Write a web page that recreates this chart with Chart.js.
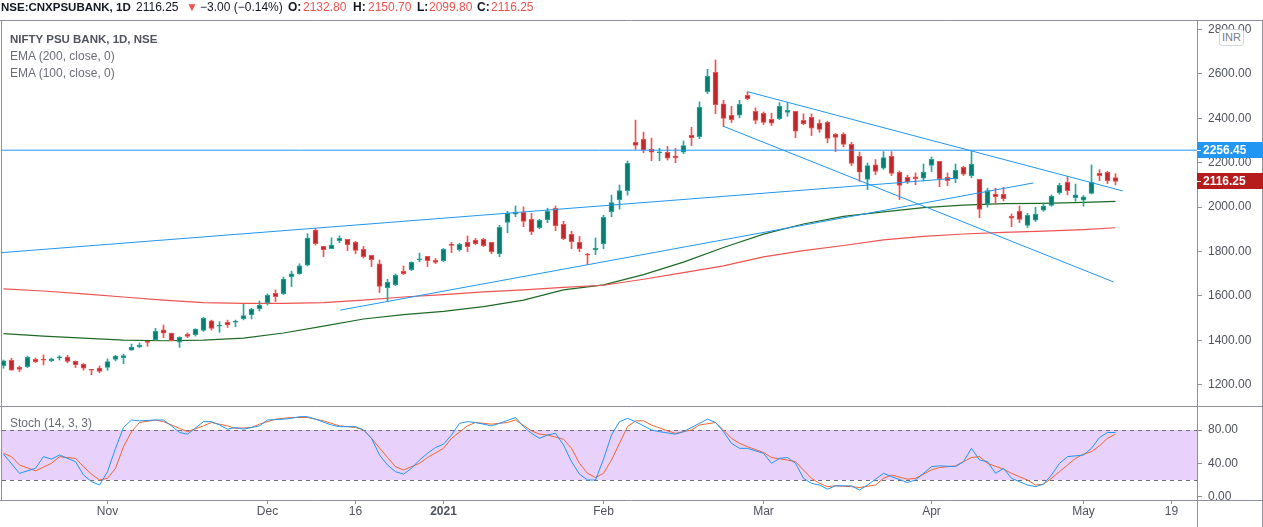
<!DOCTYPE html>
<html>
<head>
<meta charset="utf-8">
<script src="https://cdn.jsdelivr.net/npm/chart.js@4.4.1/dist/chart.umd.min.js"></script>
<style>
  html, body { margin: 0; padding: 0; background: #fff; }
  #wrap { position: relative; width: 1263px; height: 527px; overflow: hidden; }
  #chart { position: absolute; left: 0; top: 0; }
  .t { position: absolute; white-space: nowrap; font-family: 'Liberation Sans', Arial, sans-serif; font-size: 12px; line-height: 14px; }
  .hdr { color: #131722; top: 0px; }
  .hb { font-weight: bold; }
  .red { color: #ef5350; }
  .lg { color: #6a6d78; }
  .lg.title { color: #50535e; font-weight: bold; }
  #inr { position: absolute; left: 1219px; top: 29px; width: 23px; height: 15px; border: 1px solid #d1d4dc; border-radius: 3px; background: #fff;
         font-family: 'Liberation Sans', Arial, sans-serif; font-size: 11px; line-height: 15px; color: #787b86; text-align: center; }
</style>
</head>
<body>
<div id="wrap">
  <canvas id="chart" width="1263" height="527"></canvas>
  <div class="t hdr hb" style="left:1px;font-size:11.5px">NSE:CNXPSUBANK, 1D</div>
  <div class="t hdr" style="left:136px">2116.25</div>
  <div class="t hdr red" style="left:186px">▼</div>
  <div class="t hdr" style="left:200px">−3.00 (−0.14%)</div>
  <div class="t hdr hb" style="left:288px">O:</div>
  <div class="t hdr red" style="left:303px">2132.80</div>
  <div class="t hdr hb" style="left:353px">H:</div>
  <div class="t hdr red" style="left:368px">2150.70</div>
  <div class="t hdr hb" style="left:417px">L:</div>
  <div class="t hdr red" style="left:429px">2099.80</div>
  <div class="t hdr hb" style="left:477px">C:</div>
  <div class="t hdr red" style="left:491px">2116.25</div>
  <div class="t lg title" style="left:10px;top:32px;font-size:11.5px">NIFTY PSU BANK, 1D, NSE</div>
  <div class="t lg" style="left:10px;top:49px">EMA (200, close, 0)</div>
  <div class="t lg" style="left:10px;top:66px">EMA (100, close, 0)</div>
  <div class="t lg" style="left:10px;top:416px">Stoch (14, 3, 3)</div>
  <div id="inr">INR</div>
</div>
<script>
// daily candles, bar index 0 = mid Oct 2020 ... 139 = 7 May 2021
const opens = [1286,1310,1278,1281,1314,1313,1308,1321,1324,1305,
  1292,1268,1275,1278,1314,1322,1355,1370,1395,1403,
  1447,1432,1392,1427,1425,1445,1488,1464,1481,1482,
  1497,1516,1543,1570,1612,1610,1687,1700,1739,1897,
  1823,1813,1849,1855,1841,1810,1783,1744,1637,1651,
  1711,1718,1763,1778,1760,1759,1832,1808,1841,1852,
  1855,1841,1790,1931,1968,1977,1945,1907,1943,1995,
  1923,1877,1841,1787,1808,1835,1979,2033,2074,2292,
  2305,2260,2245,2247,2229,2247,2323,2317,2520,2607,
  2465,2414,2414,2504,2432,2423,2396,2399,2427,2432,
  2391,2405,2378,2382,2328,2329,2283,2229,2125,2191,
  2175,2229,2157,2134,2136,2130,2188,2206,2134,2127,
  2179,2142,2125,2014,2059,2058,1959,1981,1917,1941,
  1986,2008,2065,2112,2043,2031,2062,2152,2157,2132.8];
const highs = [1311,1319,1284,1329,1320,1334,1320,1331,1332,1307,
  1295,1268,1284,1316,1332,1338,1383,1388,1395,1454,
  1469,1432,1416,1433,1452,1504,1491,1484,1491,1491,
  1562,1544,1577,1609,1627,1685,1712,1745,1880,1903,
  1823,1862,1871,1855,1846,1823,1783,1762,1675,1699,
  1735,1754,1793,1778,1769,1814,1841,1837,1870,1859,
  1859,1841,1918,1981,2005,2001,1972,1945,1995,2005,
  1936,1891,1868,1792,1861,1963,2054,2100,2208,2392,
  2338,2311,2265,2274,2265,2298,2360,2474,2621,2663,
  2481,2454,2481,2519,2447,2429,2423,2471,2472,2432,
  2420,2420,2393,2387,2332,2335,2292,2248,2199,2214,
  2250,2250,2163,2143,2154,2194,2226,2206,2154,2194,
  2184,2251,2125,2085,2085,2089,1969,2005,1972,1999,
  2019,2055,2107,2137,2104,2052,2190,2169,2161,2150.7];
const lows = [1274,1265,1259,1277,1299,1289,1304,1311,1298,1277,
  1265,1245,1254,1265,1307,1295,1355,1367,1373,1398,
  1412,1398,1368,1412,1419,1440,1446,1436,1458,1461,
  1492,1496,1532,1559,1574,1606,1642,1697,1735,1829,
  1777,1813,1840,1804,1790,1771,1732,1615,1577,1646,
  1696,1714,1754,1732,1745,1754,1795,1802,1799,1831,
  1822,1790,1777,1885,1957,1912,1876,1903,1930,1894,
  1853,1813,1799,1742,1786,1813,1957,1991,2054,2260,
  2245,2209,2209,2212,2200,2241,2277,2308,2511,2421,
  2362,2381,2402,2484,2376,2372,2367,2394,2409,2313,
  2371,2322,2337,2290,2250,2272,2187,2116,2079,2146,
  2170,2142,2034,2106,2101,2118,2160,2092,2097,2110,
  2142,2133,1952,2000,2013,2028,1912,1930,1908,1935,
  1981,2004,2058,2055,2026,2004,2059,2119,2106,2099.8];
const closes = [1307,1265,1269,1323,1304,1310,1316,1324,1305,1290,
  1274,1265,1260,1304,1329,1331,1370,1379,1391,1440,
  1432,1398,1413,1418,1450,1499,1454,1469,1469,1487,
  1511,1540,1559,1603,1597,1676,1699,1735,1861,1835,
  1808,1829,1859,1831,1805,1777,1763,1643,1661,1693,
  1700,1751,1766,1759,1751,1810,1828,1832,1822,1835,
  1826,1799,1909,1972,1978,1936,1889,1941,1981,1916,
  1858,1844,1813,1783,1814,1954,2021,2075,2197,2278,
  2257,2247,2249,2220,2223,2277,2313,2450,2589,2462,
  2400,2394,2463,2489,2391,2382,2378,2454,2436,2342,
  2376,2356,2350,2310,2314,2283,2197,2157,2187,2161,
  2223,2152,2098,2113,2128,2157,2215,2127,2119,2166,
  2148,2193,1990,2075,2047,2038,1950,1945,1963,1969,
  2005,2049,2098,2074,2055,2046,2112,2142,2119.25,2116.25];

// moving averages every 5 bars
const emaIdx = [0,5,10,15,20,25,30,35,40,45,50,55,60,65,70,75,80,85,90,95,100,105,110,115,120,125,130,135,139];
const ema200 = [1632,1622,1609,1595,1581,1570,1566,1566,1570,1581,1595,1606,1618,1627,1638,1648,1675,1705,1735,1776,1804,1827,1852,1868,1879,1886,1892,1899,1907];
const ema100 = [1430,1419,1410,1401,1398,1401,1410,1433,1464,1496,1516,1530,1552,1581,1627,1650,1696,1752,1818,1878,1924,1958,1979,1998,2009,2016,2017,2021,2026];

// stochastic %K and %D
const kIdx = [0,2,4,5,6,7,9,10,11,12,13,14,15,16,17,19,20,21,22,23,25,26,27,28,29,30,32,33,35,36,37,38,39,41,42,44,45,46,47,48,49,50,51,52,53,54,55,56,57,58,59,61,62,64,65,66,67,68,69,70,71,72,73,74,75,76,77,78,79,81,82,84,85,87,88,89,90,91,92,93,95,96,97,98,99,100,101,102,103,104,106,107,108,110,111,113,114,116,117,119,120,121,122,123,124,125,126,128,129,130,131,132,133,135,136,137,138,139];
const kVal = [51,28,34,48,45,50,42,26,18,14,30,58,83,92,91,92,92,85,77,75,90,90,86,81,83,81,85,92,93,94,96,96,93,86,84,84,80,70,50,38,30,27,34,44,52,59,63,74,88,90,89,85,88,95,84,76,70,74,76,62,42,27,20,20,45,74,90,94,90,80,78,75,78,88,93,89,78,64,58,58,52,40,46,47,40,22,16,14,9,13,13,8,14,28,24,17,20,36,37,36,42,58,44,42,28,34,22,14,12,15,26,40,48,50,58,71,77,77];
const dIdx = [0,1,2,4,6,7,9,10,11,12,13,14,15,16,17,19,20,22,23,25,26,28,29,31,32,34,36,38,40,42,44,45,46,48,49,50,52,53,55,56,58,59,61,63,64,66,67,68,70,71,72,73,74,75,76,77,78,79,80,81,83,84,86,87,89,90,91,92,93,95,96,98,99,100,101,102,103,104,106,107,109,110,111,113,114,116,117,119,120,121,122,123,125,126,127,128,129,130,131,132,133,134,135,136,137,138,139];
const dVal = [52,48,38,31,40,48,46,36,27,20,22,34,60,78,89,92,90,82,78,85,89,85,82,83,87,93,95,95,91,85,83,80,70,47,36,32,40,47,58,70,85,89,87,89,92,79,75,74,69,58,40,28,23,28,44,64,84,91,91,86,79,76,80,86,89,80,70,64,60,53,47,44,42,32,22,16,12,13,12,11,14,22,26,21,22,32,35,37,42,47,48,40,33,28,24,20,14,15,22,30,38,46,51,54,61,70,75];

// drawn trend lines: [bar, price, bar, price]
const trendLines = [
  [-0.19, 1795, 119, 2130],
  [42.1, 1536, 128.75, 2109],
  [93, 2520, 139.9, 2073],
  [90, 2364, 138.75, 1663]
];
const hLinePrice = 2256.45;
const lastPrice = 2116.25;

const xTickIdx = [13, 33, 44, 55, 75, 95, 116, 135, 146];
const xTickLabels = ['Nov', 'Dec', '16', '2021', 'Feb', 'Mar', 'Apr', 'May', '19'];
const priceTicks = [1200, 1400, 1600, 1800, 2000, 2200, 2400, 2600, 2800];
const stochTicks = [0, 40, 80];

const FONT = "'Liberation Sans', Arial, sans-serif";
const UP = '#26a69a', DOWN = '#ef5350';
const UP_FILL = '#0b7d6e', DOWN_FILL = '#c0282d';
const FRAME = '#8e9199';
const TEXT = '#50535e';
const X_MIN = -0.1875, X_MAX = 149.1875;

const idx = opens.map((_, i) => i);
const isUp = i => closes[i] >= opens[i];

const lineDs = (data, color, axis, width, order) => ({
  type: 'line', data, yAxisID: axis, borderColor: color, borderWidth: width,
  pointRadius: 0, tension: 0, fill: false, order
});

const datasets = [
  {
    type: 'bar', yAxisID: 'y', order: 3, grouped: false, barThickness: 1,
    data: idx.map(i => ({ x: i, y: [lows[i], highs[i]] })),
    backgroundColor: idx.map(i => isUp(i) ? UP : DOWN)
  },
  {
    type: 'bar', yAxisID: 'y', order: 2, grouped: false, barThickness: 5,
    minBarLength: 1, borderWidth: 1, borderSkipped: false,
    data: idx.map(i => ({ x: i, y: [opens[i], closes[i]] })),
    backgroundColor: idx.map(i => isUp(i) ? UP_FILL : DOWN_FILL),
    borderColor: idx.map(i => isUp(i) ? UP : DOWN)
  },
  lineDs(emaIdx.map((x, j) => ({ x, y: ema200[j] })), '#ef5350', 'y', 1.2, 4),
  lineDs(emaIdx.map((x, j) => ({ x, y: ema100[j] })), '#1e6a25', 'y', 1.2, 4),
  lineDs([{ x: X_MIN, y: hLinePrice }, { x: X_MAX, y: hLinePrice }], '#2196f3', 'y', 1, 0),
  ...trendLines.map(t => lineDs([{ x: t[0], y: t[1] }, { x: t[2], y: t[3] }], '#2196f3', 'y', 1, 0)),
  lineDs(dIdx.map((x, j) => ({ x, y: dVal[j] })), '#f26531', 'yS', 1, 1),
  lineDs(kIdx.map((x, j) => ({ x, y: kVal[j] })), '#2196f3', 'yS', 1, 0)
];

function hline(ctx, y, x1, x2) {
  ctx.beginPath(); ctx.moveTo(x1, Math.round(y) + 0.5); ctx.lineTo(x2, Math.round(y) + 0.5); ctx.stroke();
}
function vline(ctx, x, y1, y2) {
  ctx.beginPath(); ctx.moveTo(Math.round(x) + 0.5, y1); ctx.lineTo(Math.round(x) + 0.5, y2); ctx.stroke();
}
function priceTag(ctx, x, y, value, bg) {
  ctx.fillStyle = bg;
  ctx.fillRect(x, Math.round(y) - 8, 66, 16);
  ctx.strokeStyle = '#fff';
  hline(ctx, y, x, x + 4);
  ctx.fillStyle = '#fff';
  ctx.font = 'bold 12px ' + FONT;
  ctx.textBaseline = 'middle';
  ctx.textAlign = 'left';
  ctx.fillText(value.toFixed(2), x + 6, Math.round(y) + 0.5);
}

const paneDecor = {
  id: 'paneDecor',
  beforeDatasetsDraw(chart) {
    const { ctx, chartArea } = chart;
    const ys = chart.scales.yS;
    const y80 = ys.getPixelForValue(80), y20 = ys.getPixelForValue(20);
    ctx.save();
    ctx.fillStyle = '#e8d2fb';
    ctx.fillRect(chartArea.left, y80, chartArea.right - chartArea.left, y20 - y80);
    ctx.strokeStyle = '#6f6a7a';
    ctx.lineWidth = 1;
    ctx.setLineDash([4, 4]);
    hline(ctx, y80, chartArea.left, chartArea.right);
    hline(ctx, y20, chartArea.left, chartArea.right);
    ctx.restore();
  },
  afterDraw(chart) {
    const { ctx, chartArea, width, height } = chart;
    const y = chart.scales.y, ys = chart.scales.yS;
    ctx.save();
    ctx.strokeStyle = FRAME;
    ctx.lineWidth = 1;
    hline(ctx, chartArea.top, 0, width);
    hline(ctx, ys.top, 0, width);
    hline(ctx, chartArea.bottom, 0, width);
    vline(ctx, chartArea.left - 1, chartArea.top, chartArea.bottom);
    vline(ctx, chartArea.right, chartArea.top, height);
    vline(ctx, width - 1, chartArea.top, height);
    priceTag(ctx, chartArea.right, y.getPixelForValue(hLinePrice), hLinePrice, '#2196f3');
    priceTag(ctx, chartArea.right, y.getPixelForValue(lastPrice), lastPrice, '#b71c1c');
    ctx.restore();
  }
};

const yAxis = (min, max, tickList, weight) => ({
  type: 'linear', position: 'right', stack: 'panes', stackWeight: weight,
  min, max,
  border: { display: false },
  grid: { drawOnChartArea: false, drawTicks: true, tickLength: 5, color: FRAME },
  ticks: { color: TEXT, padding: 6, font: { family: FONT, size: 12 }, callback: v => v.toFixed(2) },
  afterBuildTicks: s => { s.ticks = tickList.map(v => ({ value: v })); },
  afterFit: s => { s.width = 66; }
});

new Chart(document.getElementById('chart'), {
  type: 'bar',
  data: { datasets },
  options: {
    responsive: false,
    animation: false,
    devicePixelRatio: 1,
    layout: { padding: { top: 20, left: 2, right: 0, bottom: 0 } },
    plugins: { legend: { display: false }, tooltip: { enabled: false } },
    scales: {
      x: {
        type: 'linear', position: 'bottom', min: X_MIN, max: X_MAX, offset: false,
        border: { display: false },
        grid: { drawOnChartArea: false, offset: false, drawTicks: true, tickLength: 4, color: FRAME },
        ticks: {
          autoSkip: false, maxRotation: 0, padding: 0, color: TEXT,
          font: c => ({ family: FONT, size: 12, weight: c.tick && c.tick.value === 55 ? 'bold' : 'normal' }),
          callback: v => xTickLabels[xTickIdx.indexOf(v)]
        },
        afterBuildTicks: s => { s.ticks = xTickIdx.map(v => ({ value: v })); },
        afterFit: s => { s.height = 27; }
      },
      y: yAxis(1104, 2843, priceTicks, 386),
      yS: yAxis(-4, 108.8, stochTicks, 94)
    }
  },
  plugins: [paneDecor]
});
</script>
</body>
</html>
